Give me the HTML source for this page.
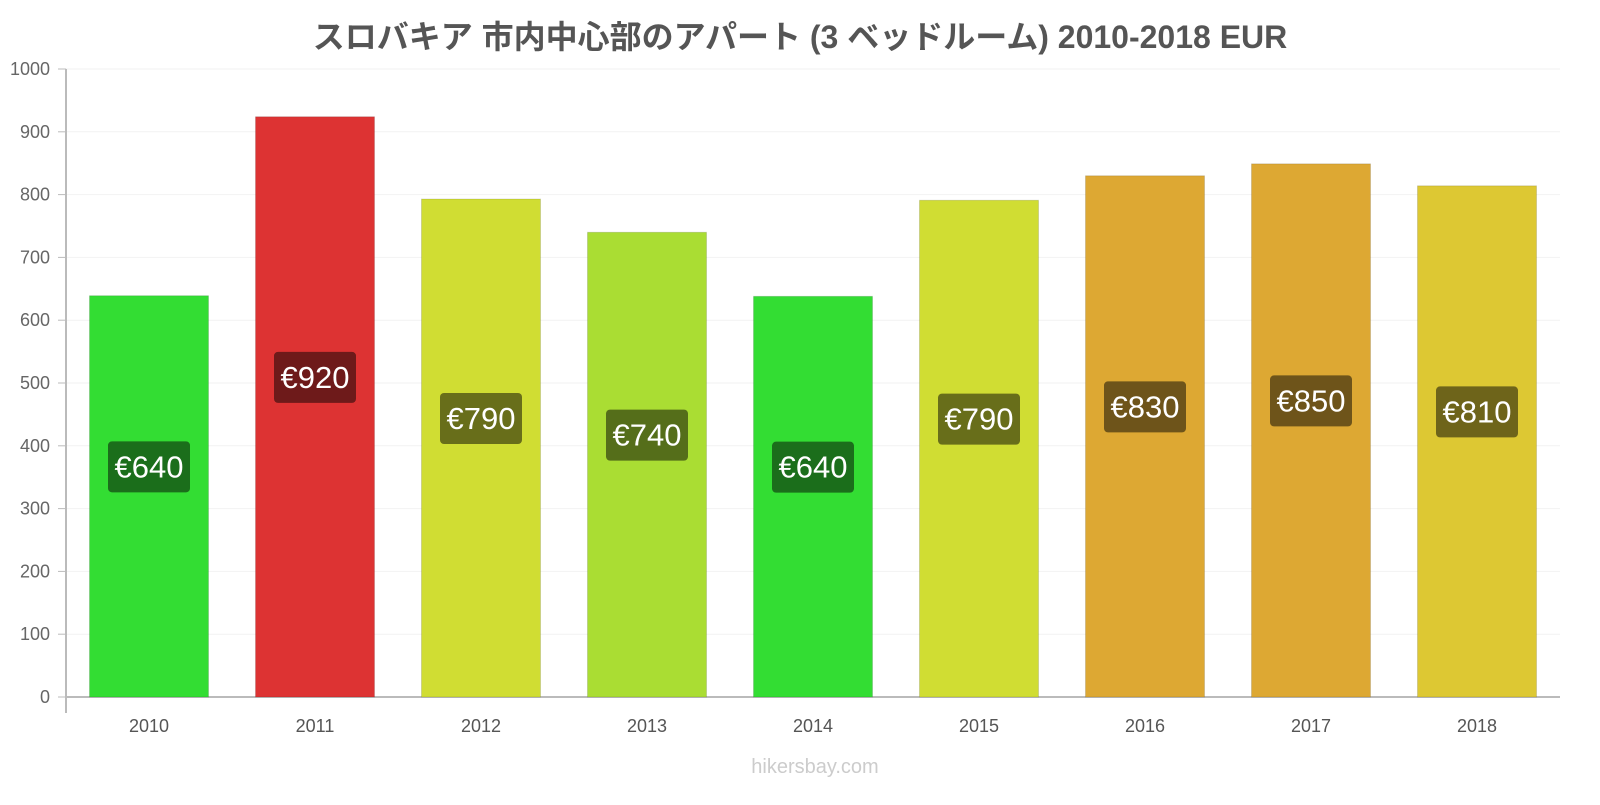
<!DOCTYPE html>
<html><head><meta charset="utf-8"><style>
body{margin:0;background:#fff;font-family:"Liberation Sans","Noto Sans CJK JP",sans-serif}
</style></head><body>
<svg id="c" width="1600" height="800" xmlns="http://www.w3.org/2000/svg" style="font-family:'Liberation Sans','Noto Sans CJK JP',sans-serif">
<text x="800" y="48" text-anchor="middle" font-size="32" font-weight="bold" fill="#555">スロバキア 市内中心部のアパート (3 ベッドルーム) 2010-2018 EUR</text>
<text x="815" y="773" text-anchor="middle" font-size="20" fill="#ccc">hikersbay.com</text>
</svg>
<script>
const categories=["2010","2011","2012","2013","2014","2015","2016","2017","2018"];
const values=[639,924,793,740,638,791,830,849,814];
const valueLabels=["€640","€920","€790","€740","€640","€790","€830","€850","€810"];
const colors=["#33dd33","#dd3333","#d0dd33","#aadd33","#33dd33","#d0dd33","#dda833","#dda833","#ddc833"];
const labelColors=["#1b6e1b","#6e1a1a","#686e1a","#556e1a","#1b6e1b","#686e1a","#6e541a","#6e541a","#6e641a"];
const yTicks=[0,100,200,300,400,500,600,700,800,900,1000];
const svg=document.getElementById('c');
const NS="http://www.w3.org/2000/svg";
const x0=66,x1=1560,y0=697,y1000=69;
const y=v=>y0-(y0-y1000)*v/1000;
const band=(x1-x0)/categories.length;
function mk(t,a){const e=document.createElementNS(NS,t);for(const k in a)e.setAttribute(k,a[k]);svg.appendChild(e);return e;}
yTicks.forEach(t=>{
  const g=mk('line',{x1:x0,x2:x1,y1:y(t),y2:y(t),stroke:t===0?'#bbb':'#f2f2f2','stroke-width':t===0?2:1});
  
  
  const tk=mk('line',{x1:x0-8,x2:x0,y1:y(t),y2:y(t),stroke:'#bbb'});
  
  
  const l=mk('text',{x:x0-16,y:y(t)+6,'text-anchor':'end','font-size':18,fill:'#666'});
  l.textContent=t;
  
  
});
const ax=mk('line',{x1:x0,x2:x0,y1:y1000,y2:y0+16,stroke:'#bbb','stroke-width':2});


categories.forEach((c,i)=>{
  const cx=x0+band*(i+0.5),w=119,top=y(values[i]);
  const r=mk('rect',{x:cx-w/2,y:top,width:w,height:y0-top,fill:colors[i],stroke:'rgba(0,0,0,0.12)'});
  
  
  const ly=(top+y0)/2-30;
  const b=mk('rect',{x:cx-41,y:ly-25,width:82,height:51,rx:4,fill:labelColors[i]});
  
  
  const t=mk('text',{x:cx,y:ly+11,'text-anchor':'middle','font-size':31,fill:'#fff'});
  t.textContent=valueLabels[i];
  
  
  const xl=mk('text',{x:cx,y:732,'text-anchor':'middle','font-size':18,fill:'#555'});
  xl.textContent=c;
  
  
});
</script>
</body></html>
